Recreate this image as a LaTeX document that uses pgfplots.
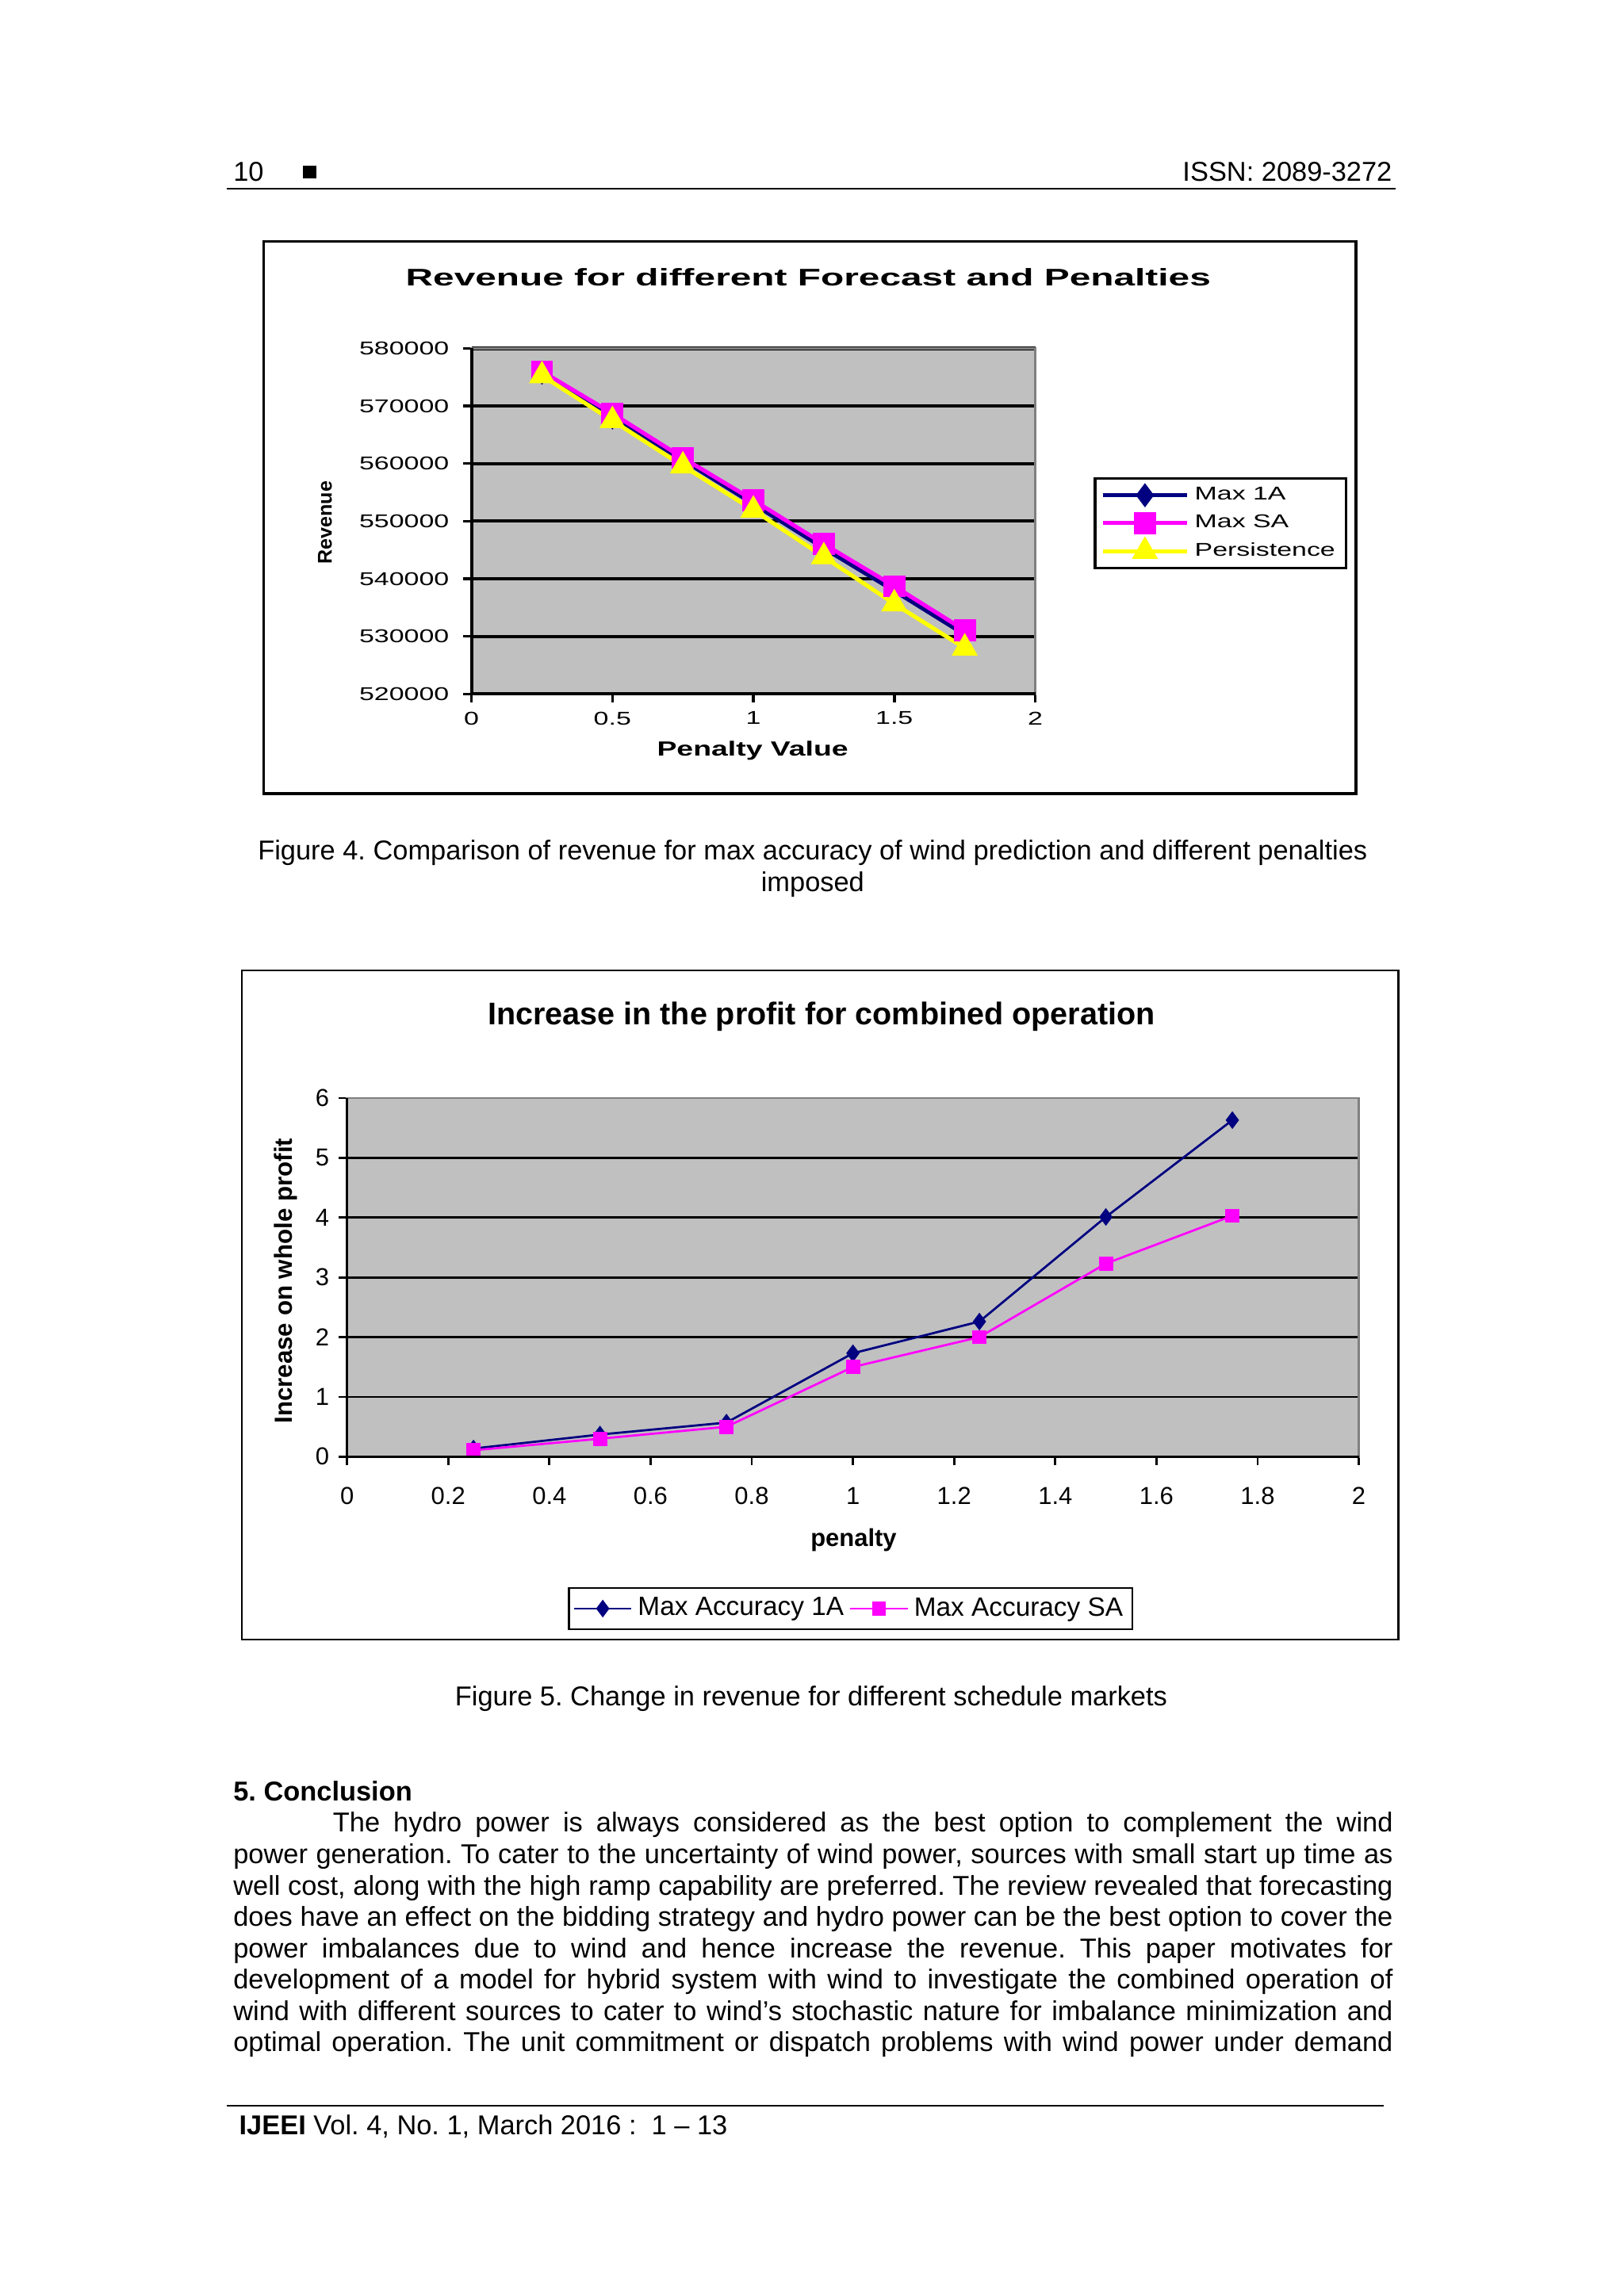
\documentclass[border=0pt]{standalone}
\usepackage{fontspec}
\setmainfont{Liberation Sans}
\newfontfamily\xfont[FakeStretch=1.45]{Liberation Sans}
\newfontfamily\xtfont[FakeStretch=1.58]{Liberation Sans}
\usepackage{pgfplots}
\pgfplotsset{compat=1.18}
\definecolor{xnavy}{RGB}{0,0,128}
\definecolor{xmag}{RGB}{255,0,255}
\definecolor{xyel}{RGB}{255,255,0}
\definecolor{xgray}{RGB}{192,192,192}
\definecolor{xborder}{RGB}{128,128,128}
\newcommand{\jl}[4]{\node[anchor=base west,inner sep=0pt] at (#1,#2) {\makebox[#3][s]{#4}};}
\frenchspacing
\begin{document}
\frenchspacing
\begin{tikzpicture}
\fill[white] (0pt,0pt) rectangle (595.28pt,-841.89pt);
\begin{scope}[x=0.5368pt,y=-0.5368pt,font=\fontsize{10}{12}\selectfont]
% header
\node[anchor=base west,inner sep=0pt] at (159,123.5) {10};
\fill[black] (207,113) rectangle (216,122);
\node[anchor=base east,inner sep=0pt] at (951,123.5) {ISSN: 2089-3272};
\draw[line width=0.6pt] (155,129) -- (953,129);
% frames
\draw[line width=1pt,fill=white] (180,165) rectangle (926,542);
\draw[line width=0.6pt,fill=white] (165,663) rectangle (955,1120);
\end{scope}

% ---------- Chart 1 ----------
\begin{axis}[
  at={(172.85pt,-254.44pt)}, anchor=south west,
  scale only axis, width=206.67pt, height=126.68pt,
  xmin=0, xmax=2, ymin=520000, ymax=580000,
  xtick={0,0.5,1,1.5,2},
  xticklabels={0,0.5,1,1.5,2},
  ytick={520000,530000,540000,550000,560000,570000,580000},
  yticklabels={520000,530000,540000,550000,560000,570000,580000},
  scaled ticks=false,
  ticklabel style={font=\xfont\fontsize{6.8}{8}\selectfont},
  yticklabel style={xshift=-1.7pt},
  tick align=outside, tick pos=left, major tick length=3pt,
  tick style={black,line width=1pt},
  axis line style={draw=xborder,line width=1pt},
  axis background/.style={fill=xgray},
  ymajorgrids, major grid style={black,line width=1.2pt},
  xlabel={Penalty Value}, ylabel={Revenue},
  xlabel style={at={(axis description cs:0.4987,-0.165)},anchor=center,font=\xfont\bfseries\fontsize{7.5}{9}\selectfont},
  ylabel style={at={(axis description cs:-0.2597,0.4958)},anchor=center,font=\bfseries\fontsize{7.3}{8}\selectfont},
  legend style={at={(1.1039,0.6271)}, anchor=north west, draw=black, line width=1pt,
    font=\xfont\fontsize{6.8}{8}\selectfont, inner xsep=2pt, inner ysep=1pt, row sep=0pt,
    cells={anchor=west}},
  legend image code/.code={\draw[mark repeat=2,mark phase=2] plot coordinates {(0pt,0pt)(15.5pt,0pt)(31pt,0pt)};},
  extra description/.code={\draw[black,line width=1.2pt] (0,1)--(0,0)--(1,0);},
]
\addplot[xnavy, line width=1.5pt, mark=diamond*, mark size=3.2pt] coordinates {(0.25,575800)(0.5,568000)(0.75,560600)(1,553000)(1.25,545300)(1.5,537900)(1.75,530300)};
\addlegendentry{Max 1A}
\addplot[xmag, line width=1.5pt, mark=square*, mark size=3.3pt] coordinates {(0.25,576000)(0.5,568700)(0.75,561000)(1,553650)(1.25,546030)(1.5,538700)(1.75,531040)};
\addlegendentry{Max SA}
\addplot[xyel, line width=1.5pt, mark=triangle*, mark size=4pt] coordinates {(0.25,575270)(0.5,567470)(0.75,559600)(1,551930)(1.25,543820)(1.5,535650)(1.75,527970)};
\addlegendentry{Persistence}
\end{axis}

% ---------- Chart 2 ----------
\begin{axis}[
  at={(127.22pt,-534.12pt)}, anchor=south west,
  scale only axis, width=370.93pt, height=131.52pt,
  xmin=0, xmax=2, ymin=0, ymax=6,
  xtick={0,0.2,0.4,0.6,0.8,1,1.2,1.4,1.6,1.8,2},
  xticklabels={0,0.2,0.4,0.6,0.8,1,1.2,1.4,1.6,1.8,2},
  ytick={0,1,2,3,4,5,6},
  yticklabels={0,1,2,3,4,5,6},
  ticklabel style={font=\fontsize{9}{11}\selectfont},
  xticklabel style={yshift=-4.7pt},
  tick align=outside, tick pos=left, major tick length=3pt,
  tick style={black,line width=0.8pt},
  axis line style={draw=xborder,line width=0.8pt},
  axis background/.style={fill=xgray},
  ymajorgrids, major grid style={black,line width=0.8pt},
  xlabel={penalty}, ylabel={Increase on whole profit},
  xlabel style={at={(axis description cs:0.5007,-0.2327)},anchor=center,font=\bfseries\fontsize{9}{11}\selectfont},
  ylabel style={at={(axis description cs:-0.0608,0.49)},anchor=center,font=\bfseries\fontsize{9.1}{11}\selectfont},
  legend columns=2,
  legend style={at={(0.2185,-0.3633)}, anchor=north west, draw=black, line width=0.6pt,
    font=\fontsize{9.7}{11}\selectfont, inner xsep=1.5pt, inner ysep=1.5pt,
    /tikz/every even column/.append style={column sep=0pt}},
  legend image code/.code={\draw[mark repeat=2,mark phase=2] plot coordinates {(0pt,0pt)(10.5pt,0pt)(21pt,0pt)};},
  extra description/.code={\draw[black,line width=0.8pt] (0,1)--(0,0)--(1,0);},
]
\addplot[xnavy, line width=0.8pt, mark=diamond*, mark size=2.6pt] coordinates {(0.25,0.136)(0.5,0.37)(0.75,0.57)(1,1.73)(1.25,2.26)(1.5,4.01)(1.75,5.63)};
\addlegendentry{Max Accuracy 1A}
\addplot[xmag, line width=0.8pt, mark=square*, mark size=2.2pt] coordinates {(0.25,0.107)(0.5,0.30)(0.75,0.50)(1,1.50)(1.25,2.00)(1.5,3.23)(1.75,4.03)};
\addlegendentry{Max Accuracy SA}
\end{axis}

\begin{scope}[x=0.5368pt,y=-0.5368pt,font=\fontsize{10}{12}\selectfont]
% titles
\node[anchor=base,inner sep=0pt,font=\xtfont\bfseries\fontsize{8.8}{10}\selectfont] at (552,195) {Revenue for different Forecast and Penalties};
\node[anchor=base,inner sep=0pt,font=\bfseries\fontsize{11.5}{13}\selectfont] at (561,700) {Increase in the profit for combined operation};
% captions
\node[anchor=base,inner sep=0pt] at (555,587.5) {Figure 4. Comparison of revenue for max accuracy of wind prediction and different penalties};
\node[anchor=base,inner sep=0pt] at (555,609) {imposed};
\node[anchor=base,inner sep=0pt] at (554,1165) {Figure 5. Change in revenue for different schedule markets};
% section
\node[anchor=base west,inner sep=0pt,font=\bfseries\fontsize{10}{12}\selectfont] at (159,1230) {5. Conclusion};
\jl{227}{1251.5}{388.6pt}{The hydro power is always considered as the best option to complement the wind}
\jl{159}{1272.9}{425.1pt}{power generation. To cater to the uncertainty of wind power, sources with small start up time as}
\jl{159}{1294.4}{425.1pt}{well cost, along with the high ramp capability are preferred. The review revealed that forecasting}
\jl{159}{1315.8}{425.1pt}{does have an effect on the bidding strategy and hydro power can be the best option to cover the}
\jl{159}{1337.2}{425.1pt}{power imbalances due to wind and hence increase the revenue. This paper motivates for}
\jl{159}{1358.7}{425.1pt}{development of a model for hybrid system with wind to investigate the combined operation of}
\jl{159}{1380.1}{425.1pt}{wind with different sources to cater to wind’s stochastic nature for imbalance minimization and}
\jl{159}{1401.5}{425.1pt}{optimal operation. The unit commitment or dispatch problems with wind power under demand}
% footer
\draw[line width=0.6pt] (155,1438.6) -- (945,1438.6);
\node[anchor=base west,inner sep=0pt] at (163,1458) {\textbf{IJEEI} Vol. 4, No. 1, March 2016 :\ \ 1 – 13};
\end{scope}
\end{tikzpicture}
\end{document}
